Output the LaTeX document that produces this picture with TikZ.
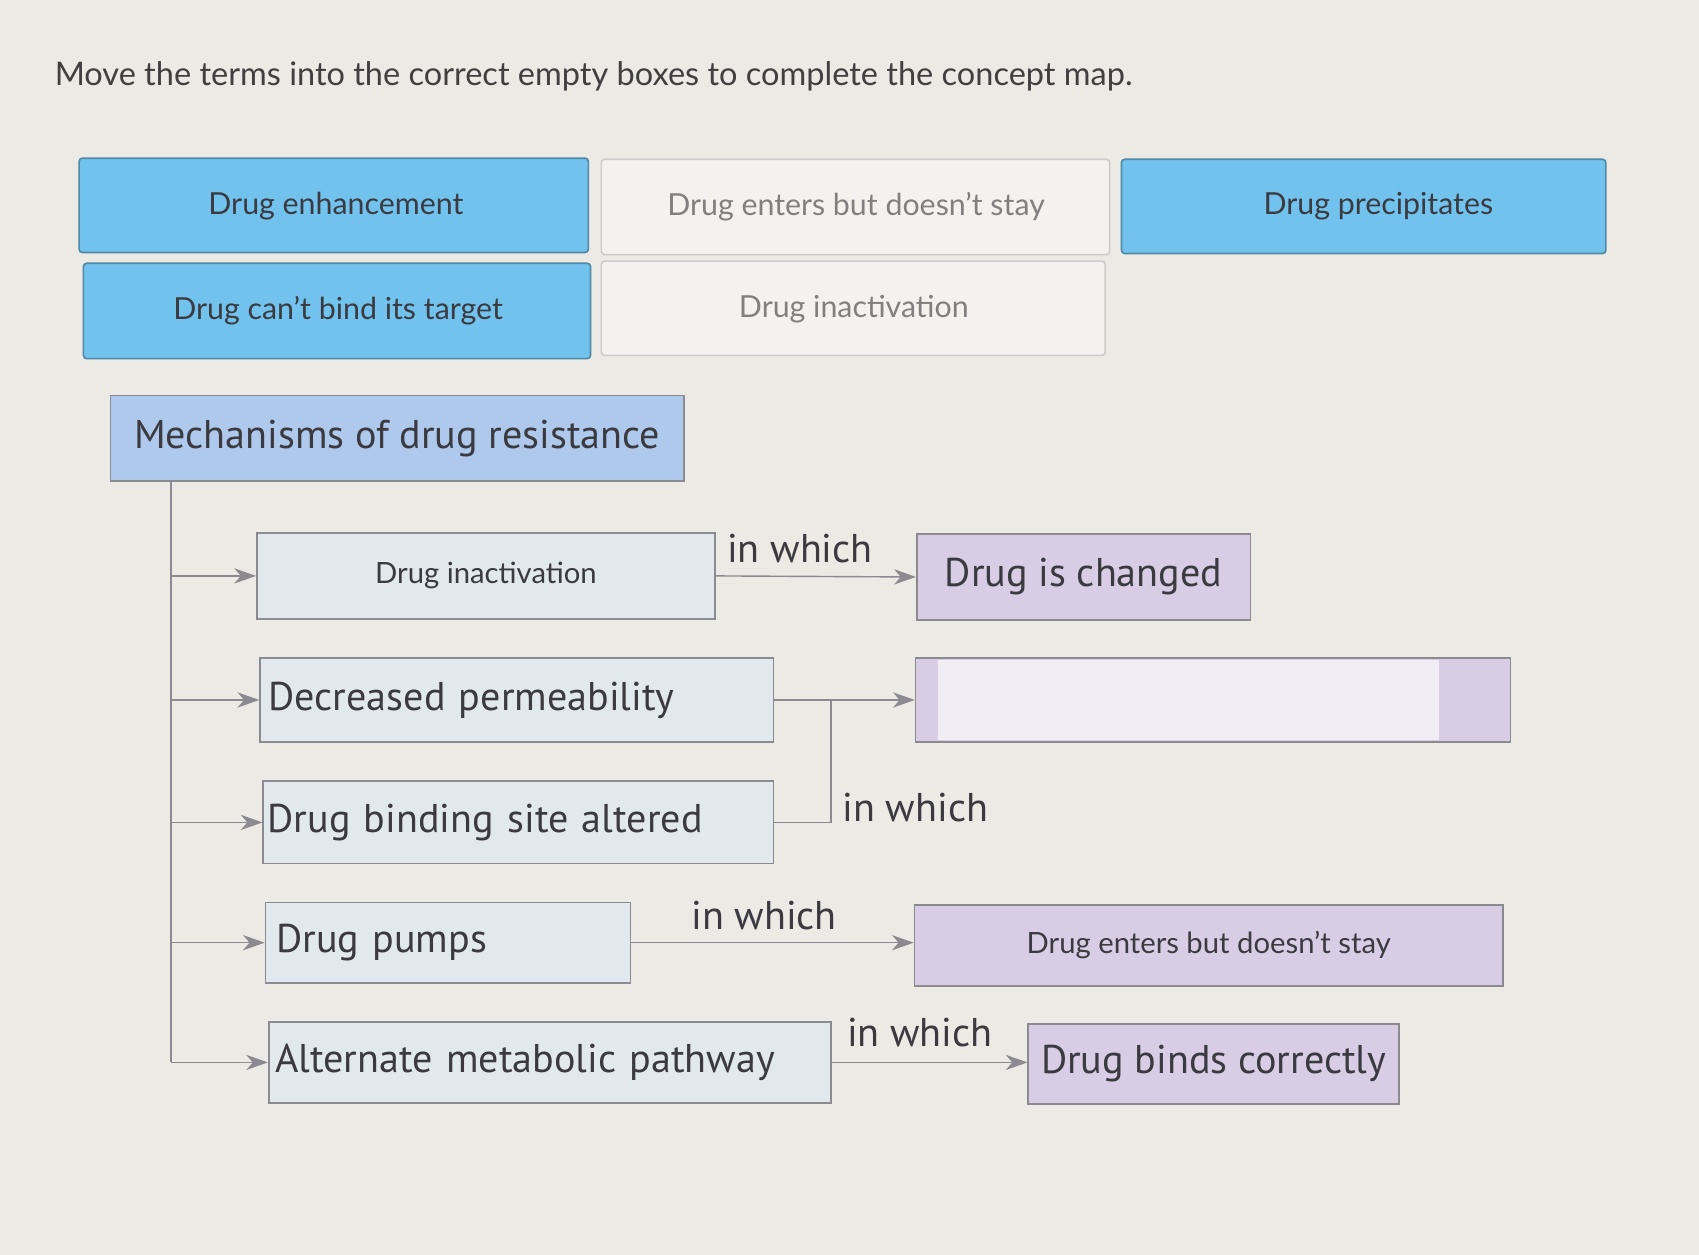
\documentclass[tikz,border=0pt]{standalone}
\usepackage{fontspec}
\setmainfont{Lato}
\newfontfamily\bigf{PT Sans}
\usetikzlibrary{arrows.meta}
\definecolor{bg}{HTML}{ECEAE4}
\definecolor{bankblue}{HTML}{72C2EE}
\definecolor{mainblue}{HTML}{AFC9EC}
\definecolor{leftf}{HTML}{E2E9EE}
\definecolor{lav}{HTML}{D8CDE5}
\definecolor{edge}{HTML}{8A8A90}
\definecolor{txt}{HTML}{3A3A40}
\begin{document}
\begin{tikzpicture}[x=1pt,y=-1pt,
  box/.style={draw=edge,line width=1.5pt,inner sep=0pt,text=txt},
  bankb/.style={box,fill=bankblue,draw=bankblue!70!black,rounded corners=3pt},
  bankw/.style={box,fill=bg!60!white,draw=black!20,rounded corners=3pt},
  bigt/.style={font=\bigf\fontsize{37}{40}\selectfont,text=txt},
  smallt/.style={font=\fontsize{27}{30}\selectfont,text=txt},
  conn/.style={draw=edge,line width=1.3pt},
  arr/.style={conn,-{Stealth[length=20pt,width=14pt,inset=6pt]}}]
\fill[bg] (0,0) rectangle (1568,1158);
\useasboundingbox (0,0) rectangle (1568,1158);
\node[anchor=west,font=\fontsize{30}{32}\selectfont,text=black!75] (title) at (47,70) {Move the terms into the correct empty boxes to complete the concept map.};
% bank
\draw[bankb] (73,146) rectangle (543,233); \node[font=\fontsize{28}{30}\selectfont,text=txt] (b1) at (310,190) {Drug enhancement};
\draw[bankw] (555,147) rectangle (1024,235); \node[font=\fontsize{28}{30}\selectfont,text=black!50] (b2) at (790,191) {Drug enters but doesn't stay};
\draw[bankb] (1035,147) rectangle (1482,234); \node[font=\fontsize{28}{30}\selectfont,text=txt] (b3) at (1272,190) {Drug precipitates};
\draw[bankb] (77,243) rectangle (545,331); \node[font=\fontsize{28}{30}\selectfont,text=txt] (b4) at (312,287) {Drug can't bind its target};
\draw[bankw] (555,241) rectangle (1020,328); \node[font=\fontsize{28}{30}\selectfont,text=black!50] (b5) at (788,285) {Drug inactivation};
% main
\node[box,fill=mainblue,minimum width=529pt,minimum height=79pt,bigt] (main) at (366.5,404.5) {Mechanisms of drug resistance};
% left
\node[box,fill=leftf,minimum width=423pt,minimum height=79pt,smallt] (l1) at (448.5,531.5) {Drug inactivation};
\node[box,fill=leftf,minimum width=474pt,minimum height=78pt,bigt,text width=458pt,align=left] (l2) at (477,646) {Decreased permeability};
\node[box,fill=leftf,minimum width=471pt,minimum height=76pt,bigt,text width=463pt,align=left] (l3) at (478.5,759) {Drug binding site altered};
\node[box,fill=leftf,minimum width=337pt,minimum height=74pt,bigt,text width=317pt,align=left] (l4) at (413.5,870) {Drug pumps};
\node[box,fill=leftf,minimum width=519pt,minimum height=75pt,bigt,text width=507pt,align=left] (l5) at (507.5,980.5) {Alternate metabolic pathway};
% right
\node[box,fill=lav,minimum width=308pt,minimum height=79pt,bigt] (r1) at (1000,532.5) {Drug is changed};
\node[box,fill=lav,minimum width=549pt,minimum height=78pt] (r2) at (1119.5,646) {};
\fill[black!5!lav!30!white] (866,609) rectangle (1328,683);
\node[box,fill=lav,minimum width=543pt,minimum height=75pt,smallt] (r4) at (1115.5,872.5) {Drug enters but doesn't stay};
\node[box,fill=lav,minimum width=342pt,minimum height=74pt,bigt] (r5) at (1120,982) {Drug binds correctly};
% trunk
\coordinate (t0) at (158,444);
\coordinate (t5) at (158,980.5);
\draw[conn] (t0) -- (t5);
\foreach \n/\y in {l1/531.5,l2/646,l3/759,l4/870,l5/980.5}{
  \draw[arr] (158,\y) -- (\n.west |- 0,\y);}
% links
\draw[arr] (l1.east) -- (r1.west) node[pos=0.42,above=8pt,bigt] (w1) {in which};
\coordinate (j) at (767,646);
\draw[arr] (l2.east) -- (r2.west);
\draw[conn] (l3.east) -- (767,759) -- (j);
\node[bigt,anchor=west] (w2) at (774,745) {in which};
\draw[arr] (l4.east) -- (l4.east -| r4.west) node[pos=0.47,above=8pt,bigt] (w3) {in which};
\draw[arr] (l5.east) -- (l5.east -| r5.west) node[pos=0.45,above=10pt,bigt] (w4) {in which};
\end{tikzpicture}
\end{document}
